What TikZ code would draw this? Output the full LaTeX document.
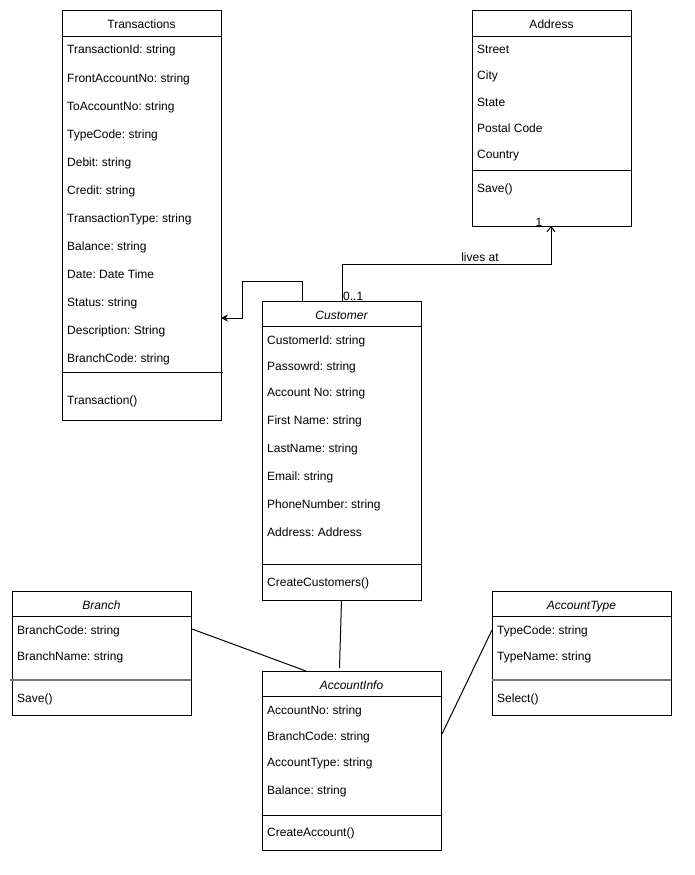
\documentclass[tikz,border=0pt]{standalone}
\usepackage{fontspec}
\setmainfont{Liberation Sans}
\frenchspacing
\usetikzlibrary{arrows.meta,calc}
\definecolor{sepgray}{RGB}{118,118,132}
\tikzset{
    umlbox/.style = {draw, black, line width=1pt, rectangle, outer sep=0pt, inner sep=0pt, anchor=north west},
    attr/.style = {anchor=base west, inner sep=0pt, yshift=-1pt, font=\fontsize{12}{14}\selectfont},
    ctitle/.style = {anchor=base, inner sep=0pt, yshift=-1pt, font=\fontsize{12}{14}\selectfont},
    link/.style = {draw, black, line width=1pt}
}
\begin{document}
\begin{tikzpicture}[x=1pt, y=-1pt]
        \useasboundingbox (0, 0) rectangle (694, 875);
        % class boxes
        \node[umlbox, minimum width=159pt, minimum height=409pt] (trans) at (62, 11) {};
        \node[umlbox, minimum width=159pt, minimum height=215pt] (addr) at (472, 11) {};
        \node[umlbox, minimum width=159pt, minimum height=299pt] (cust) at (262, 301) {};
        \node[umlbox, minimum width=179pt, minimum height=124pt] (branch) at (12, 591) {};
        \node[umlbox, minimum width=179pt, minimum height=124pt] (atype) at (492, 591) {};
        \node[umlbox, minimum width=179pt, minimum height=179pt] (ainfo) at (262, 671) {};
        % header and method lines
        \draw[line width=1pt] ([yshift=-26pt]trans.north west) -- ([yshift=-26pt]trans.north east);
        \draw[line width=1pt] ([yshift=-361pt]trans.north west) -- ([yshift=-361pt, xshift=2pt]trans.north east);
        \draw[line width=1pt] ([yshift=-26pt]addr.north west) -- ([yshift=-26pt]addr.north east);
        \draw[line width=1pt] ([yshift=-159pt]addr.north west) -- ([yshift=-159pt]addr.north east);
        \draw[line width=1pt] ([yshift=-25pt]cust.north west) -- ([yshift=-25pt]cust.north east);
        \draw[line width=1pt] ([yshift=-263pt]cust.north west) -- ([yshift=-263pt]cust.north east);
        \draw[line width=1pt] ([yshift=-25pt]branch.north west) -- ([yshift=-25pt]branch.north east);
        \draw[line width=1.5pt, sepgray] ([yshift=-89pt, xshift=-2pt]branch.north west) -- ([yshift=-89pt]branch.north east);
        \draw[line width=1pt] ([yshift=-25pt]atype.north west) -- ([yshift=-25pt]atype.north east);
        \draw[line width=1.5pt, sepgray] ([yshift=-89pt]atype.north west) -- ([yshift=-89pt]atype.north east);
        \draw[line width=1pt] ([yshift=-25pt]ainfo.north west) -- ([yshift=-25pt]ainfo.north east);
        \draw[line width=1pt] ([yshift=-144pt]ainfo.north west) -- ([yshift=-144pt]ainfo.north east);
        % Transactions
        \node[ctitle] (transT) at (141.5, 28) {Transactions};
        \node[attr] (tr1) at (67, 53) {TransactionId: string};
        \node[attr] (tr2) at (67, 81) {FrontAccountNo: string};
        \node[attr] (tr3) at (67, 109) {ToAccountNo: string};
        \node[attr] (tr4) at (67, 137) {TypeCode: string};
        \node[attr] (tr5) at (67, 165) {Debit: string};
        \node[attr] (tr6) at (67, 193) {Credit: string};
        \node[attr] (tr7) at (67, 221) {TransactionType: string};
        \node[attr] (tr8) at (67, 249) {Balance: string};
        \node[attr] (tr9) at (67, 277) {Date: Date Time};
        \node[attr] (tr10) at (67, 305) {Status: string};
        \node[attr] (tr11) at (67, 333) {Description: String};
        \node[attr] (tr12) at (67, 361) {BranchCode: string};
        \node[attr] (trM) at (67, 403) {Transaction()};
        % Address
        \node[ctitle] (addrT) at (551.5, 28) {Address};
        \node[attr] (ad1) at (477, 53) {Street};
        \node[attr] (ad2) at (477, 79) {City};
        \node[attr] (ad3) at (477, 105) {State};
        \node[attr] (ad4) at (477, 131) {Postal Code};
        \node[attr] (ad5) at (477, 157) {Country};
        \node[attr] (adM) at (477, 191) {Save()};
        % Customer
        \node[ctitle] (custT) at (341.5, 318) {\itshape Customer};
        \node[attr] (cu1) at (267, 343) {CustomerId: string};
        \node[attr] (cu2) at (267, 369) {Passowrd: string};
        \node[attr] (cu3) at (267, 395) {Account No: string};
        \node[attr] (cu4) at (267, 423) {First Name: string};
        \node[attr] (cu5) at (267, 451) {LastName: string};
        \node[attr] (cu6) at (267, 479) {Email: string};
        \node[attr] (cu7) at (267, 507) {PhoneNumber: string};
        \node[attr] (cu8) at (267, 535) {Address: Address};
        \node[attr] (cuM) at (267, 585) {CreateCustomers()};
        % Branch
        \node[ctitle] (branchT) at (101.5, 608) {\itshape Branch};
        \node[attr] (br1) at (17, 633) {BranchCode: string};
        \node[attr] (br2) at (17, 659) {BranchName: string};
        \node[attr] (brM) at (17, 701) {Save()};
        % AccountType
        \node[ctitle] (atypeT) at (581.5, 608) {\itshape AccountType};
        \node[attr] (at1) at (497, 633) {TypeCode: string};
        \node[attr] (at2) at (497, 659) {TypeName: string};
        \node[attr] (atM) at (497, 701) {Select()};
        % AccountInfo
        \node[ctitle] (ainfoT) at (351.5, 688) {\itshape AccountInfo};
        \node[attr] (ai1) at (267, 713) {AccountNo: string};
        \node[attr] (ai2) at (267, 739) {BranchCode: string};
        \node[attr] (ai3) at (267, 765) {AccountType: string};
        \node[attr] (ai4) at (267, 793) {Balance: string};
        \node[attr] (aiM) at (267, 835) {CreateAccount()};
        % connectors
        \draw[link, -{Stealth[length=7pt, width=7pt]}] ($(cust.north west)+(40, 0)$) -- ++(0, -20) -- ++(-60, 0) |- ($(trans.north east)+(0, 307)$);
        \draw[link, -{Straight Barb[length=5pt, width=8pt]}] ($(cust.north west)+(80, 0)$) -- ++(0, -37) -| ($(addr.south west)+(79, 0)$);
        \node[ctitle] (livesat) at (480, 260) {lives at};
        \node[attr] (multC) at (343, 299) {0..1};
        \node[ctitle] (multA) at (539, 225) {1};
        \draw[link] (cust.south) -- ($(ainfo.north)+(-12, -3)$);
        \draw[link] ($(branch.north east)+(1, 38)$) -- ($(ainfo.north west)+(44, 0)$);
        \draw[link] ($(atype.north west)+(0, 39)$) -- ($(ainfo.north east)+(1, 63)$);
\end{tikzpicture}
\end{document}
